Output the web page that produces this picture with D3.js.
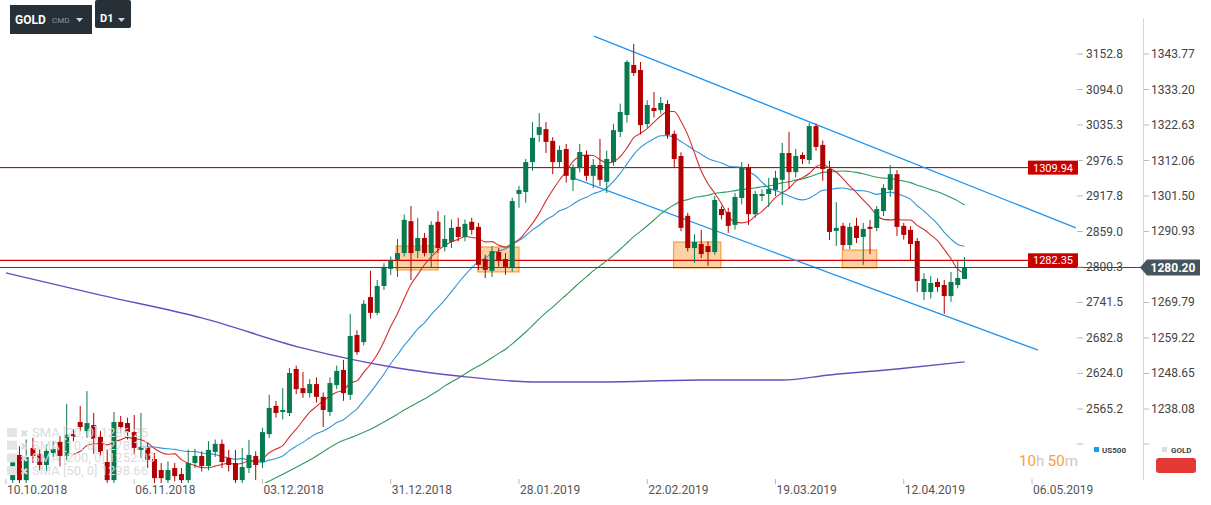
<!DOCTYPE html>
<html>
<head>
<meta charset="utf-8">
<script src="https://cdn.jsdelivr.net/npm/d3@7"></script>
<style>
  body { margin: 0; background: #fff; font-family: Roboto, "Noto Sans", sans-serif; }
</style>
</head>
<body>
<div id="chart"></div>
<script>
// GOLD D1 candles
const opens = [1216.9,1224.4,1216.9,1226.5,1224.7,1221.4,1225.0,1228.3,1224.1,1230.6,1234.2,1231.5,1233.3,1229.8,1222.3,1216.9,1234.2,1233.9,1231.2,1225.9,
  1226.5,1223.2,1219.9,1216.9,1220.5,1218.7,1216.9,1222.0,1224.1,1221.1,1225.3,1227.7,1223.5,1222.0,1216.9,1220.5,1224.1,1222.3,1230.6,1239.0,
  1237.2,1236.9,1250.0,1244.3,1242.8,1245.5,1241.7,1237.2,1245.2,1249.7,1242.3,1260.1,1258.0,1271.4,1266.7,1274.7,1279.8,1282.5,1284.5,1294.0,
  1285.1,1289.0,1284.5,1293.8,1286.3,1287.8,1292.3,1289.3,1293.8,1292.3,1282.7,1279.2,1284.8,1282.7,1280.1,1302.1,1302.7,1311.6,1319.7,1321.4,
  1317.9,1311.6,1315.5,1306.3,1309.8,1313.7,1307.5,1310.7,1305.7,1311.6,1320.6,1325.6,1340.5,1339.0,1322.9,1327.7,1327.1,1328.9,1320.0,1313.4,
  1295.6,1286.0,1287.2,1286.6,1284.8,1297.6,1296.7,1292.9,1300.9,1310.1,1296.1,1301.5,1302.1,1303.3,1306.3,1314.3,1308.6,1313.7,1312.2,1322.3,
  1316.7,1309.5,1291.1,1292.6,1286.9,1292.6,1289.3,1292.3,1292.0,1297.0,1303.3,1308.0,1292.6,1291.4,1288.1,1272.9,1272.9,1275.9,1275.0,1271.7,
  1275.0,1276.8];
const closes = [1222.9,1216.9,1223.8,1224.1,1221.4,1225.6,1226.2,1224.1,1230.4,1229.8,1232.7,1233.9,1229.2,1225.3,1216.9,1234.2,1232.7,1231.2,1226.5,1226.8,
  1222.9,1217.5,1217.5,1219.9,1218.1,1216.9,1222.0,1224.1,1221.1,1225.9,1227.7,1222.3,1221.4,1216.9,1220.8,1224.4,1221.4,1231.2,1238.4,1236.9,
  1237.8,1248.8,1244.0,1242.8,1245.5,1241.7,1237.8,1245.8,1249.4,1242.8,1259.8,1255.0,1269.4,1266.7,1274.7,1280.4,1282.2,1284.5,1294.4,1284.5,
  1289.0,1284.5,1292.9,1286.0,1288.7,1292.0,1289.3,1293.2,1291.4,1281.0,1279.5,1285.1,1282.2,1280.4,1300.0,1303.3,1311.6,1318.8,1322.0,1317.6,
  1311.6,1315.2,1307.5,1310.1,1314.6,1307.5,1310.7,1306.3,1312.5,1321.1,1326.5,1341.4,1338.1,1322.6,1328.6,1326.8,1329.2,1319.7,1312.5,1292.0,
  1286.0,1287.8,1284.2,1284.8,1300.3,1295.8,1292.6,1301.2,1310.1,1296.1,1302.1,1302.1,1303.6,1306.9,1314.3,1308.6,1313.4,1312.5,1322.3,1316.1,
  1309.5,1290.8,1292.0,1286.9,1292.3,1289.0,1291.7,1291.7,1297.6,1303.9,1308.0,1292.3,1289.9,1287.2,1276.2,1276.8,1275.6,1274.4,1271.7,1275.9,
  1277.1,1280.2];
const highs = [1224.5,1227.0,1229.0,1229.5,1226.0,1227.5,1228.5,1230.0,1239.6,1232.0,1239.0,1243.4,1236.9,1231.5,1226.0,1237.2,1236.0,1235.5,1236.3,1236.9,
  1228.0,1225.0,1222.0,1222.5,1222.0,1220.5,1226.0,1226.2,1225.5,1228.5,1229.0,1229.0,1225.9,1225.9,1226.5,1228.9,1225.5,1232.5,1242.3,1240.5,
  1244.3,1250.3,1251.0,1249.1,1247.0,1247.5,1243.0,1247.5,1251.0,1252.7,1266.4,1261.5,1270.5,1279.2,1276.5,1281.5,1283.5,1288.7,1296.0,1298.5,
  1295.0,1290.5,1294.0,1297.0,1295.8,1294.5,1295.0,1294.5,1295.0,1293.5,1284.0,1286.5,1286.0,1284.5,1301.0,1304.5,1312.5,1323.5,1326.2,1323.5,
  1319.0,1316.5,1317.0,1310.9,1317.0,1315.0,1312.5,1318.5,1315.0,1323.0,1329.0,1342.0,1346.8,1341.4,1330.0,1332.5,1331.0,1330.0,1321.0,1314.5,
  1296.5,1290.1,1291.4,1288.0,1301.5,1298.5,1298.0,1302.4,1311.6,1311.0,1303.0,1303.5,1306.9,1309.0,1317.3,1320.6,1315.5,1314.5,1323.2,1323.0,
  1318.0,1312.0,1299.7,1293.5,1293.5,1295.0,1293.5,1294.4,1298.5,1305.0,1310.7,1309.2,1293.5,1292.5,1289.0,1278.5,1277.7,1277.0,1276.5,1278.9,
  1282.1,1283.3];
const lows = [1215.5,1215.0,1215.8,1222.0,1219.8,1219.5,1223.8,1221.0,1222.8,1228.5,1231.5,1229.5,1224.7,1224.1,1215.5,1215.5,1231.0,1229.0,1224.5,1223.5,
  1220.5,1215.5,1215.8,1215.5,1216.5,1215.5,1215.5,1220.5,1219.5,1219.8,1223.8,1220.5,1219.5,1215.5,1215.5,1219.0,1216.9,1220.5,1229.5,1235.5,
  1235.0,1236.0,1242.5,1241.4,1241.5,1240.0,1232.7,1236.0,1244.0,1240.5,1240.8,1254.2,1257.0,1265.0,1266.0,1273.5,1278.0,1277.4,1283.5,1276.5,
  1283.0,1283.5,1280.1,1284.5,1285.0,1286.0,1288.0,1288.0,1290.0,1279.5,1277.1,1277.4,1280.5,1278.0,1279.0,1298.0,1299.5,1309.0,1317.6,1314.3,
  1308.0,1310.0,1305.5,1303.0,1308.5,1306.0,1303.9,1304.5,1302.4,1310.5,1319.0,1323.3,1337.2,1319.8,1321.7,1324.9,1326.0,1318.5,1310.0,1291.0,
  1285.0,1281.6,1283.0,1280.7,1284.0,1294.5,1290.5,1291.5,1299.0,1292.9,1295.0,1300.0,1298.2,1301.5,1298.8,1303.6,1307.0,1311.0,1311.0,1315.0,
  1306.0,1288.4,1286.6,1285.5,1285.7,1287.5,1281.0,1284.2,1291.0,1295.5,1301.2,1289.6,1288.5,1282.4,1272.9,1270.5,1271.0,1273.0,1266.4,1270.0,
  1274.0,1276.8];

// SMA 200 (history before the visible range)
const sma200Idx = [-1, 13, 28, 43, 57, 66, 78, 87, 102, 114, 121, 131, 141];
const sma200Val = [1278.6, 1272.0, 1265.2, 1256.2, 1250.3, 1247.9, 1246.1, 1246.1, 1246.7, 1246.7, 1248.2, 1250.0, 1252.1];
// early part of SMA 50 (before 50 visible candles)
const sma50HeadIdx = [36.9, 44.0];
const sma50HeadVal = [1215.5, 1222.9];

const goldTicks = [1343.77, 1333.20, 1322.63, 1312.06, 1301.50, 1290.93, 1280.36, 1269.79, 1259.22, 1248.65, 1238.08];
const usTicks = ["3152.8", "3094.0", "3035.3", "2976.5", "2917.8", "2859.0", "2800.3", "2741.5", "2682.8", "2624.0", "2565.2"];
const dateIdx = [-1, 18, 37, 56, 75, 94, 113, 132, 151];
const dateLabels = ["10.10.2018", "06.11.2018", "03.12.2018", "31.12.2018", "28.01.2019", "22.02.2019", "19.03.2019", "12.04.2019", "06.05.2019"];

// channel and zones in (index, price)
const channelUpper = [[86.1, 1349.1], [157.5, 1292.0]];
const channelLower = [[83.0, 1306.9], [151.9, 1255.6]];
const zones = [[56.8, 63.0, 1279.5, 1286.6], [68.9, 75.0, 1278.9, 1286.3], [97.9, 104.9, 1280.1, 1287.8], [122.9, 128.0, 1280.1, 1285.4]];
const levels = [1309.94, 1282.35];
const lastPrice = 1280.20;
const smaLegend = ["SMA [20, 0] 1286.25", "SMA [10, 0] 1278.14", "SMA [200, 0] 1252.03", "SMA [50, 0] 1298.66"];

const width = 1211, height = 505;
const plotRight = 1078, plotBottom = 483;

const svg = d3.select("#chart").append("svg")
  .attr("width", width).attr("height", height)
  .style("font-family", "Roboto, sans-serif");

const x = d3.scaleLinear().domain([0, 141]).range([12.7, 964.5]);
const y = d3.scaleLinear().domain([1238.08, 1343.77]).range([409, 54]);
const yUs = d3.scaleLinear().domain([2565.2, 3152.8]).range([409, 54]);

svg.append("clipPath").attr("id", "clip")
  .append("rect").attr("x", 0).attr("y", 0).attr("width", plotRight).attr("height", plotBottom);
const plot = svg.append("g").attr("clip-path", "url(#clip)");

// faded SMA legend (under everything)
const leg = svg.append("g").attr("fill", "#dcdcdc").style("font-size", "13px");
smaLegend.forEach((t, i) => {
  const yy = 437 + i * 12.7;
  leg.append("rect").attr("x", 7).attr("y", yy - 9).attr("width", 10).attr("height", 9).attr("fill", "#e4e4e4");
  leg.append("text").attr("x", 20).attr("y", yy).text("✖").style("font-size", "10px");
  leg.append("text").attr("x", 32).attr("y", yy).text(t);
});

// zones
zones.forEach(z => {
  plot.append("rect")
    .attr("x", x(z[0])).attr("width", x(z[1]) - x(z[0]))
    .attr("y", y(z[3])).attr("height", y(z[2]) - y(z[3]))
    .attr("fill", "#f9a54a").attr("fill-opacity", 0.5)
    .attr("stroke", "#f7a035").attr("stroke-width", 1.2);
});

// horizontal levels
plot.append("line").attr("x1", 0).attr("x2", plotRight).attr("y1", y(levels[0])).attr("y2", y(levels[0]))
  .attr("stroke", "#8b0000").attr("stroke-width", 1);
plot.append("line").attr("x1", 0).attr("x2", plotRight).attr("y1", y(levels[1])).attr("y2", y(levels[1]))
  .attr("stroke", "#d40000").attr("stroke-width", 1.2);
svg.append("line").attr("x1", 0).attr("x2", 1143).attr("y1", y(lastPrice)).attr("y2", y(lastPrice))
  .attr("stroke", "#3c4850").attr("stroke-width", 1.2);

// channel
const lineXY = d3.line().x(d => x(d[0])).y(d => y(d[1]));
[channelUpper, channelLower].forEach(c => {
  plot.append("path").attr("d", lineXY(c)).attr("stroke", "#2196f3").attr("stroke-width", 1.3).attr("fill", "none");
});

// moving averages
function sma(n) {
  return closes.map((c, i) => i < n - 1 ? null : { i, v: d3.mean(closes.slice(i - n + 1, i + 1)) }).filter(d => d);
}
const maLine = d3.line().x(d => x(d.i)).y(d => y(d.v)).curve(d3.curveMonotoneX);
const sma50 = sma50HeadIdx.map((i, k) => ({ i, v: sma50HeadVal[k] })).concat(sma(50));
plot.append("path").attr("d", maLine(sma50)).attr("stroke", "#2e9a5e").attr("stroke-width", 1.1).attr("fill", "none");
[[20, "#2e97d8"], [10, "#d32f2f"]].forEach(([n, col]) => {
  plot.append("path").attr("d", maLine(sma(n))).attr("stroke", col).attr("stroke-width", 1.1).attr("fill", "none");
});
plot.append("path")
  .attr("d", maLine(sma200Idx.map((i, k) => ({ i, v: sma200Val[k] }))))
  .attr("stroke", "#6a4cc0").attr("stroke-width", 1.4).attr("fill", "none");

// candles
const candles = closes.map((c, i) => ({ i, o: opens[i], h: highs[i], l: lows[i], c }));
const cg = plot.append("g").selectAll("g").data(candles).enter().append("g");
const col = d => d.c >= d.o ? "#077a4f" : "#b30000";
cg.append("line")
  .attr("x1", d => x(d.i)).attr("x2", d => x(d.i))
  .attr("y1", d => y(d.h)).attr("y2", d => y(d.l))
  .attr("stroke", col).attr("stroke-width", 1);
cg.append("rect")
  .attr("x", d => x(d.i) - 2.5).attr("width", 5)
  .attr("y", d => y(Math.max(d.o, d.c)))
  .attr("height", d => Math.max(1, Math.abs(y(d.o) - y(d.c))))
  .attr("fill", col);

// level labels
levels.forEach(v => {
  svg.append("rect").attr("x", 1028).attr("y", y(v) - 7).attr("width", 50).attr("height", 14).attr("fill", "#c80000");
  svg.append("text").attr("x", 1053).attr("y", y(v) + 4).attr("text-anchor", "middle")
    .attr("fill", "#fff").style("font-size", "11px").text(v.toFixed(2));
});

// axes
svg.append("line").attr("x1", 1143.5).attr("x2", 1143.5).attr("y1", 18).attr("y2", 480).attr("stroke", "#d0d6dc");
const axUs = svg.append("g");
usTicks.forEach(t => {
  const yy = yUs(+t);
  axUs.append("line").attr("x1", 1077).attr("x2", 1083).attr("y1", yy).attr("y2", yy).attr("stroke", "#bbb");
  axUs.append("text").attr("x", 1086).attr("y", yy + 4).attr("fill", "#444").style("font-size", "12px").text(t);
});
goldTicks.forEach(t => {
  const yy = y(t);
  svg.append("line").attr("x1", 1144).attr("x2", 1149).attr("y1", yy).attr("y2", yy).attr("stroke", "#bbb");
  svg.append("text").attr("x", 1151).attr("y", yy + 4).attr("fill", "#444").style("font-size", "12px").text(t.toFixed(2));
});
svg.append("line").attr("x1", 1077).attr("x2", 1083).attr("y1", 444).attr("y2", 444).attr("stroke", "#bbb");
svg.append("line").attr("x1", 1144).attr("x2", 1149).attr("y1", 444).attr("y2", 444).attr("stroke", "#bbb");

// last price tag
const ly = y(lastPrice);
svg.append("path")
  .attr("d", `M1140,${ly} L1147,${ly - 8} L1200,${ly - 8} L1200,${ly + 8} L1147,${ly + 8} Z`)
  .attr("fill", "#455560");
svg.append("text").attr("x", 1173).attr("y", ly + 4.5).attr("text-anchor", "middle")
  .attr("fill", "#fff").style("font-size", "12px").style("font-weight", "bold").text(lastPrice.toFixed(2));

// date axis
dateIdx.forEach((d, k) => {
  const xx = x(d);
  svg.append("line").attr("x1", xx).attr("x2", xx).attr("y1", 479).attr("y2", 484).attr("stroke", "#bbb");
  svg.append("text").attr("x", xx + 1).attr("y", 494).attr("fill", "#555").style("font-size", "12px").text(dateLabels[k]);
});

// timer
const timer = svg.append("text").attr("x", 1019).attr("y", 466).style("font-size", "15px");
timer.append("tspan").attr("fill", "#f7a035").text("10");
timer.append("tspan").attr("fill", "#c8c8c8").text("h ");
timer.append("tspan").attr("fill", "#f7a035").text("50");
timer.append("tspan").attr("fill", "#c8c8c8").text("m");

// instrument legend
svg.append("rect").attr("x", 1094).attr("y", 447).attr("width", 5).attr("height", 5).attr("fill", "#14a0e6");
svg.append("text").attr("x", 1102).attr("y", 453).attr("fill", "#444").style("font-size", "8px").style("font-weight", "bold").text("US500");
svg.append("rect").attr("x", 1162).attr("y", 447).attr("width", 5).attr("height", 5).attr("fill", "#ddd");
svg.append("text").attr("x", 1171).attr("y", 453).attr("fill", "#444").style("font-size", "8px").style("font-weight", "bold").text("GOLD");
svg.append("rect").attr("x", 1156).attr("y", 458).attr("width", 40).attr("height", 15).attr("rx", 3).attr("fill", "#e53935");

// top-left selectors
svg.append("rect").attr("x", 10).attr("y", 5).attr("width", 82).attr("height", 29).attr("fill", "#263036");
svg.append("text").attr("x", 15).attr("y", 24).attr("fill", "#fff").style("font-size", "12px").style("font-weight", "bold").text("GOLD");
svg.append("text").attr("x", 52).attr("y", 23).attr("fill", "#8a969e").style("font-size", "8px").text("CMD");
svg.append("path").attr("d", "M76,18 L83,18 L79.5,22 Z").attr("fill", "#cfd6da");
svg.append("rect").attr("x", 95).attr("y", 0).attr("width", 36).attr("height", 28).attr("rx", 2).attr("fill", "#263036");
svg.append("text").attr("x", 100).attr("y", 22).attr("fill", "#fff").style("font-size", "11px").style("font-weight", "bold").text("D1");
svg.append("path").attr("d", "M118,18 L125,18 L121.5,22 Z").attr("fill", "#cfd6da");
</script>
</body>
</html>
